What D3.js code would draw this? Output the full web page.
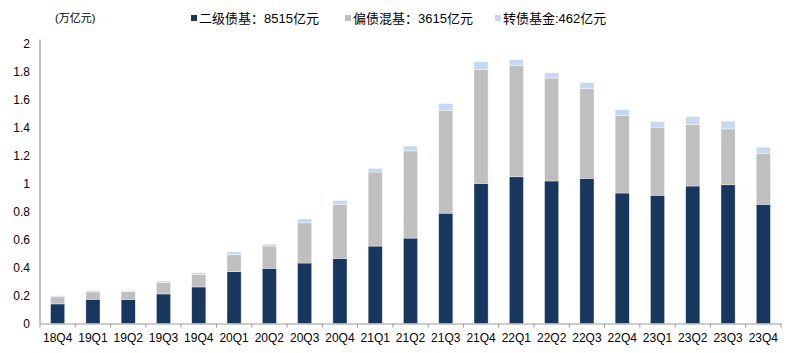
<!DOCTYPE html>
<html lang="zh">
<head>
<meta charset="UTF-8">
<title>基金规模</title>
<script src="https://d3js.org/d3.v7.min.js"></script>
<style>
  body { margin: 0; background: #fff; font-family: "Liberation Sans", Arial, "Noto Sans CJK SC", sans-serif; }
  .tick text { font-size: 12px; fill: #000; }
  .legend text { font-size: 13px; fill: #000; }
</style>
</head>
<body>
<svg width="794" height="353"></svg>
<script>
// 单位：万亿元
const quarters = ["18Q4","19Q1","19Q2","19Q3","19Q4","20Q1","20Q2","20Q3","20Q4","21Q1","21Q2",
                  "21Q3","21Q4","22Q1","22Q2","22Q3","22Q4","23Q1","23Q2","23Q3","23Q4"];
const erji   = [0.140,0.173,0.172,0.211,0.261,0.370,0.394,0.432,0.465,0.553,0.610,
                0.788,1.001,1.048,1.018,1.037,0.932,0.916,0.982,0.991,0.8515];
const pianzhai = [0.050,0.053,0.055,0.081,0.088,0.121,0.159,0.287,0.384,0.529,0.623,
                  0.735,0.812,0.795,0.735,0.641,0.553,0.486,0.441,0.399,0.3615];
const zhuanzhai = [0.008,0.009,0.008,0.012,0.014,0.021,0.014,0.028,0.029,0.026,0.034,
                   0.048,0.057,0.041,0.038,0.042,0.043,0.041,0.055,0.055,0.0462];
const yTicks = [0,0.2,0.4,0.6,0.8,1,1.2,1.4,1.6,1.8,2];
const seriesNames = ["二级债基：8515亿元","偏债混基：3615亿元","转债基金:462亿元"];
const colors = ["#17375E","#BFBFBF","#C6D9F1"];

const svg = d3.select("svg");
const plotLeft = 40, plotRight = 781, plotTop = 43.5, plotBottom = 323.5;

const x = d3.scaleBand().domain(quarters).range([plotLeft, plotRight])
  .paddingInner(0.6).paddingOuter(0.3);
const y = d3.scaleLinear().domain([0, 2]).range([plotBottom, plotTop]);

const rows = quarters.map((q, i) => ({ q, a: erji[i], b: pianzhai[i], c: zhuanzhai[i] }));
const stack = d3.stack().keys(["a","b","c"])(rows);

svg.append("g").selectAll("g")
  .data(stack)
  .join("g")
  .attr("fill", (d, i) => colors[i])
  .selectAll("rect")
  .data(d => d)
  .join("rect")
  .attr("x", d => x(d.data.q))
  .attr("y", d => y(d[1]))
  .attr("width", x.bandwidth())
  .attr("height", d => y(d[0]) - y(d[1]))
  .attr("stroke", "#fff")
  .attr("stroke-opacity", 0.6)
  .attr("stroke-width", 0.6);

// y axis
const yAxis = svg.append("g")
  .attr("transform", `translate(${plotLeft},0)`)
  .call(d3.axisLeft(y).tickValues(yTicks).tickSize(0).tickPadding(10)
    .tickFormat(d => d === 0 ? "0" : d3.format("~g")(d)));
yAxis.select(".domain").attr("stroke", "#999").attr("stroke-width", 1.2)
  .attr("d", `M0,${y(2) - 4}V${plotBottom}`);

// x axis
const xAxis = svg.append("g")
  .attr("transform", `translate(0,${plotBottom})`)
  .call(d3.axisBottom(x).tickSize(0).tickPadding(10));
xAxis.select(".domain").attr("stroke", "#999").attr("stroke-width", 1.2);
xAxis.selectAll(".bound")
  .data(d3.range(quarters.length + 1))
  .join("line")
  .attr("class", "bound")
  .attr("x1", i => plotLeft + i * x.step())
  .attr("x2", i => plotLeft + i * x.step())
  .attr("y1", 0).attr("y2", 4)
  .attr("stroke", "#999");

// unit label
svg.append("text")
  .attr("x", 55).attr("y", 22)
  .attr("font-size", 11)
  .text("(万亿元)");

// legend
const legendX = [191, 345, 495];
const lg = svg.append("g").attr("class", "legend")
  .selectAll("g").data(seriesNames).join("g")
  .attr("transform", (d, i) => `translate(${legendX[i]},18)`);
lg.append("rect").attr("x", 0).attr("y", -3).attr("width", 6).attr("height", 6)
  .attr("fill", (d, i) => colors[i]);
lg.append("text").attr("x", 8).attr("y", 5).text(d => d);
</script>
</body>
</html>
